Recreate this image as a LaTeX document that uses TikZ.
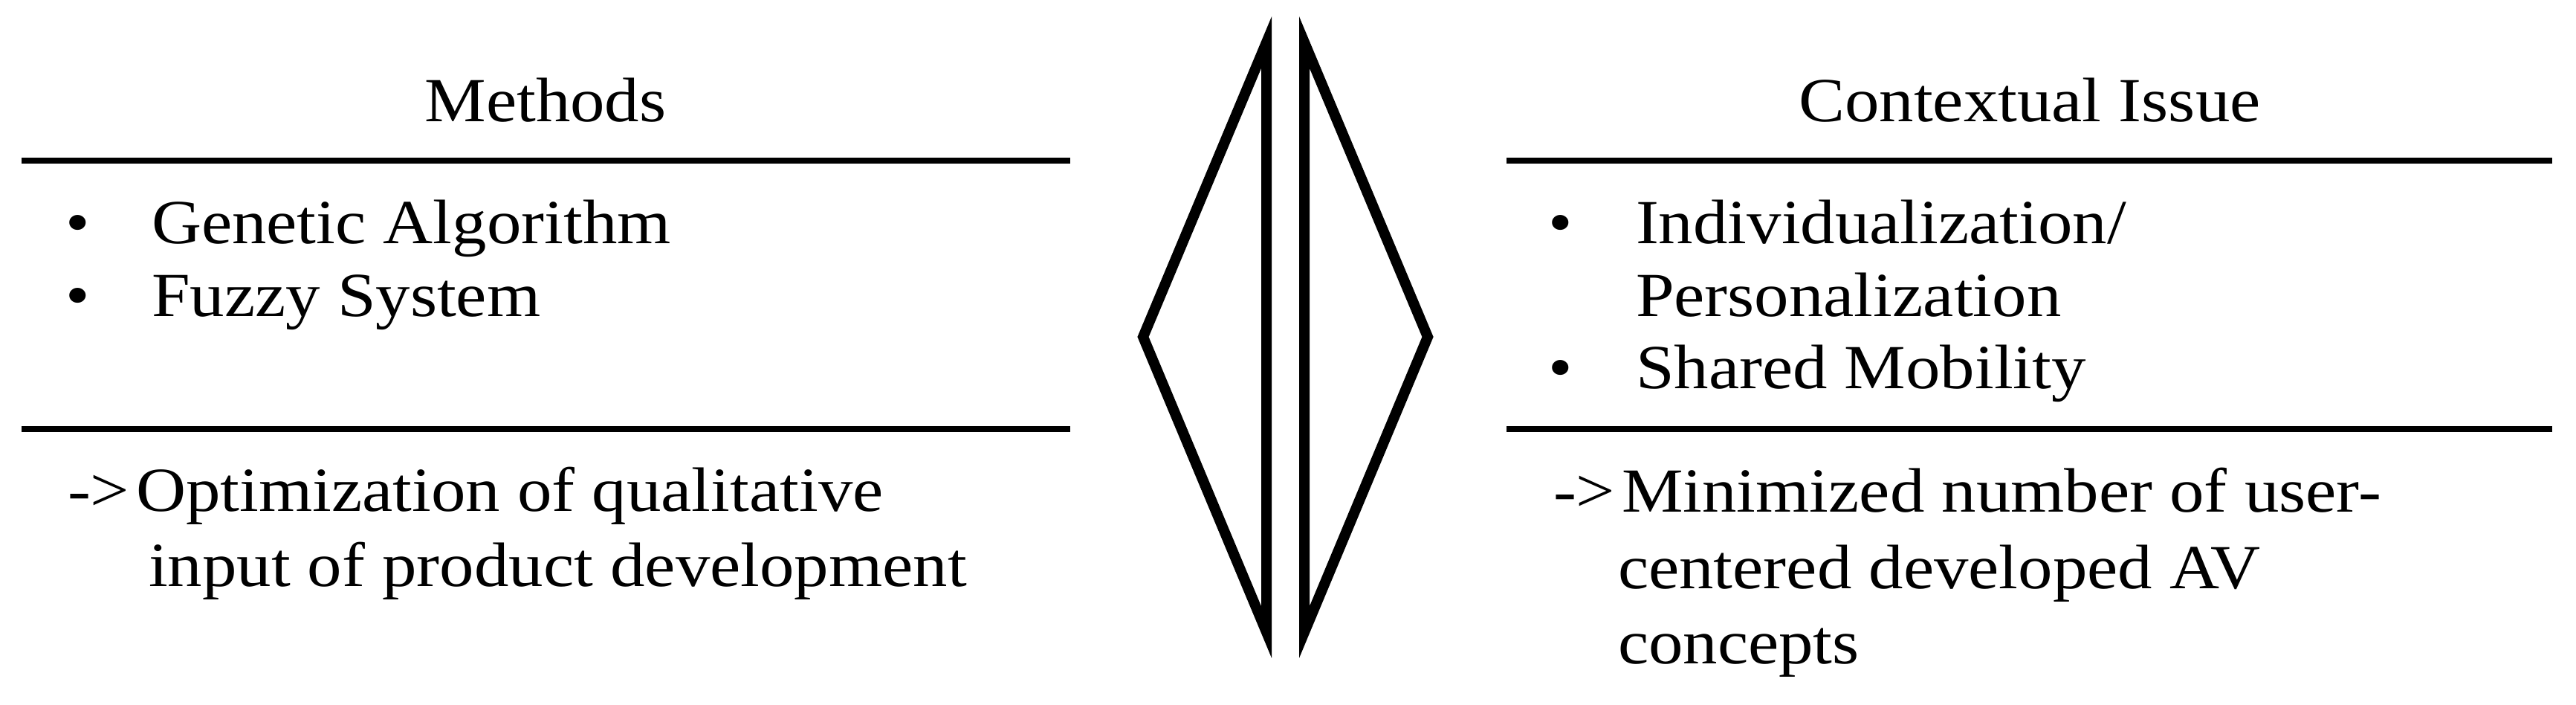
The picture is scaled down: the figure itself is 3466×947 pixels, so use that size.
\documentclass[tikz,border=0pt]{standalone}
\usepackage{fontspec}
\setmainfont[FakeStretch=1.1]{Liberation Serif}
\tikzset{
  txt/.style={inner sep=0pt, outer sep=0pt, anchor=base west, font=\fontsize{24}{29}\selectfont},
  ttl/.style={txt, anchor=base},
  bul/.style={txt, anchor=base},
  rule/.style={line width=0.087cm},
  tri/.style={line width=0.14cm, line join=miter, miter limit=20}
}
\begin{document}
\begin{tikzpicture}[x=0.01cm,y=-0.01cm]
\useasboundingbox (0,0) rectangle (3466,947);
% left panel
\coordinate (l1a) at (29,216); \coordinate (l1b) at (1440,216);
\coordinate (l2a) at (29,577); \coordinate (l2b) at (1440,577);
\draw[rule] (l1a) -- (l1b);
\draw[rule] (l2a) -- (l2b);
\node[ttl] (mth) at (734,163) {Methods};
\node[bul] (b1) at (105,327) {•};
\node[txt] (ga) at (204,327) {Genetic Algorithm};
\node[bul] (b2) at (105,425) {•};
\node[txt] (fs) at (204,425) {Fuzzy System};
\node[txt] (o1) at (91,687) {-{>}\hspace{2.5pt}Optimization of qualitative};
\node[txt] (o2) at (200,788) {input of product development};
% right panel
\coordinate (r1a) at (2027,216); \coordinate (r1b) at (3434,216);
\coordinate (r2a) at (2027,577); \coordinate (r2b) at (3434,577);
\draw[rule] (r1a) -- (r1b);
\draw[rule] (r2a) -- (r2b);
\node[ttl] (ci) at (2731,163) {Contextual Issue};
\node[bul] (b3) at (2100,327) {•};
\node[txt] (ip1) at (2201,327) {Individualization/};
\node[txt] (ip2) at (2201,425) {Personalization};
\node[bul] (b4) at (2100,522) {•};
\node[txt] (sm) at (2201,522) {Shared Mobility};
\node[txt] (mn1) at (2090,688) {-{>}\hspace{2.5pt}Minimized number of user-};
\node[txt] (mn2) at (2177,791) {centered developed AV};
\node[txt] (mn3) at (2177,892) {concepts};
% double triangle
\coordinate (lt) at (1704,57); \coordinate (lb) at (1704,850); \coordinate (lp) at (1538,453);
\coordinate (rt) at (1755,57); \coordinate (rb) at (1755,850); \coordinate (rp) at (1921,453);
\draw[tri] (lp) -- (lt) -- (lb) -- cycle;
\draw[tri] (rp) -- (rt) -- (rb) -- cycle;
\end{tikzpicture}
\end{document}
